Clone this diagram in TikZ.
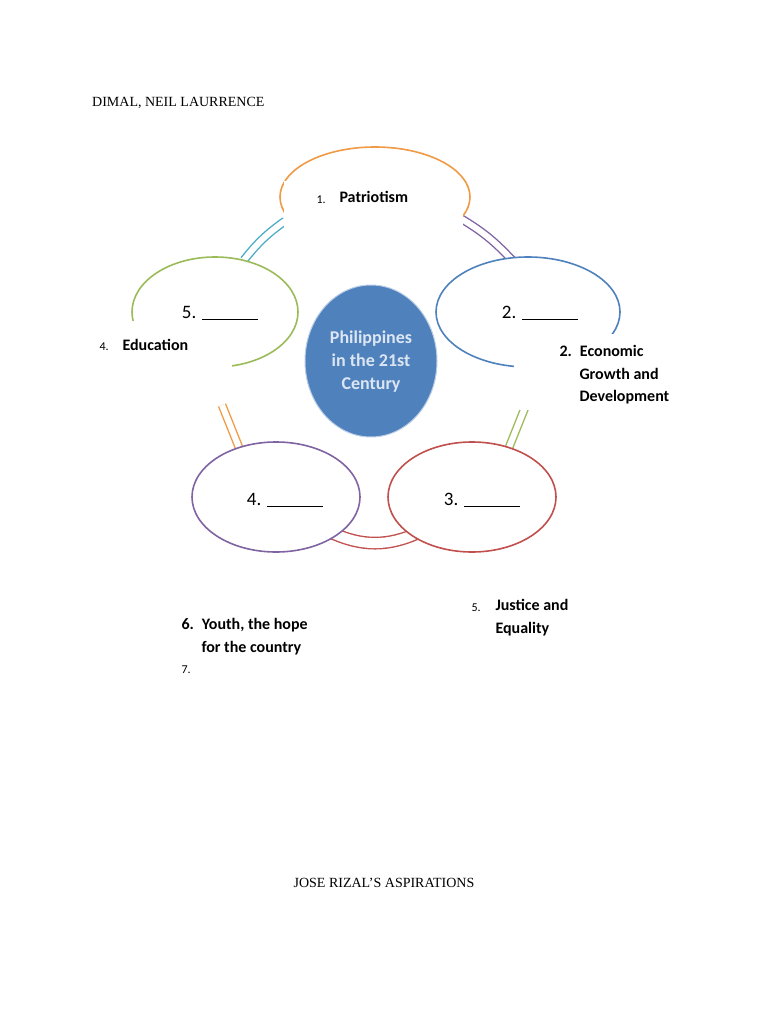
\documentclass[tikz,border=0pt]{standalone}
\usepackage{fontspec}
\usetikzlibrary{shapes.geometric}
\setmainfont{Liberation Serif}
\newfontfamily\calfont{Carlito}
\begin{document}
\begin{tikzpicture}[x=1pt,y=-1pt,
  bub/.style={draw=#1, line width=1.6pt, fill=white},
  link/.style={draw=#1, double=white, double distance=6pt, line width=1.4pt},
  wbox/.style={fill=white, draw=none},
  lab/.style={font=\calfont\bfseries\fontsize{16}{22.5}\selectfont, anchor=west},
  num/.style={font=\calfont\fontsize{12}{14}\selectfont, anchor=west},
  blank/.style={font=\calfont\fontsize{19}{22}\selectfont}]
\useasboundingbox (0,0) rectangle (768,1024);
\definecolor{corange}{HTML}{F09A45}
\definecolor{cteal}{HTML}{4BACC6}
\definecolor{cpurple}{HTML}{8064A2}
\definecolor{cgreen}{HTML}{9BBB59}
\definecolor{cblue}{HTML}{4F81BD}
\definecolor{cred}{HTML}{C0504D}
\node[anchor=west, font=\fontsize{14}{16}\selectfont, inner sep=0pt] (hdr) at (92,103) {DIMAL, NEIL LAURRENCE};
% connectors
\coordinate (t1) at (285,221); \coordinate (t2) at (244,260);
\coordinate (p1) at (460,218); \coordinate (p2) at (512,260);
\coordinate (o1) at (222,405); \coordinate (o2) at (240,450);
\coordinate (g1) at (526,405); \coordinate (g2) at (508,450);
\coordinate (r1) at (330,532); \coordinate (r2) at (420,532);
\draw[link=cteal] (t1) to[bend right=8] (t2);
\draw[link=cpurple] (p1) to[bend left=8] (p2);
\draw[link=corange] (o1) to (o2);
\draw[link=cgreen] (g1) to (g2);
\draw[cred, line width=1.4pt, double=white, double distance=10pt] (r1) to[bend right=25] (r2);
% bubbles
\node[bub=corange, ellipse, minimum width=190pt, minimum height=100pt, inner sep=0pt] (top) at (375,197) {};
\node[bub=cgreen, ellipse, minimum width=166pt, minimum height=110pt, inner sep=0pt] (five) at (215,312) {};
\node[bub=cblue, ellipse, minimum width=184pt, minimum height=110pt, inner sep=0pt] (two) at (528,312) {};
\node[bub=cpurple, ellipse, minimum width=168pt, minimum height=110pt, inner sep=0pt] (four) at (276,497) {};
\node[bub=cred, ellipse, minimum width=168pt, minimum height=110pt, inner sep=0pt] (three) at (472,497) {};
% occluding text boxes
\fill[wbox] (284,181) rectangle (463,262);
\fill[wbox] (80,321) rectangle (232,385);
\fill[wbox] (514,334) rectangle (700,410);
% center
\node[ellipse, fill=cblue, draw=cblue!40, line width=1pt, minimum width=132pt, minimum height=152pt, inner sep=0pt] (ctr) at (371,361) {};
\node[align=center, text=white!80!cblue, font=\calfont\bfseries\fontsize{18}{23}\selectfont] (ctrt) at (371,362) {Philippines\\in the 21st\\Century};
% blanks
\node[blank] (b5) at (220,313) {5. \underline{\hspace{56pt}}};
\node[blank] (b2) at (540,313) {2. \underline{\hspace{56pt}}};
\node[blank] (b4) at (285,500) {4. \underline{\hspace{56pt}}};
\node[blank] (b3) at (482,500) {3. \underline{\hspace{56pt}}};
% labels
\node[num] (n1) at (313,200) {1.};
\node[lab] (l1) at (336,197) {Patriotism};
\node[num] (n4) at (96,347) {4.};
\node[lab] (l4) at (119,345) {Education};
\node[lab, align=left, anchor=north west] (l2) at (556,342) {2.\hspace{8pt}Economic\\\hspace{20pt}Growth and\\\hspace{20pt}Development};
\node[num] (n5) at (468,608) {5.};
\node[lab, align=left, anchor=north west] (l5) at (492,596) {Justice and\\Equality};
\node[lab, align=left, anchor=north west] (l6) at (178,615) {6.\hspace{8pt}Youth, the hope\\\hspace{20pt}for the country};
\node[num] (n7) at (178,670) {7.};
\node[font=\fontsize{14}{16}\selectfont] (title) at (384,883) {JOSE RIZAL'S ASPIRATIONS};
\end{tikzpicture}
\end{document}
